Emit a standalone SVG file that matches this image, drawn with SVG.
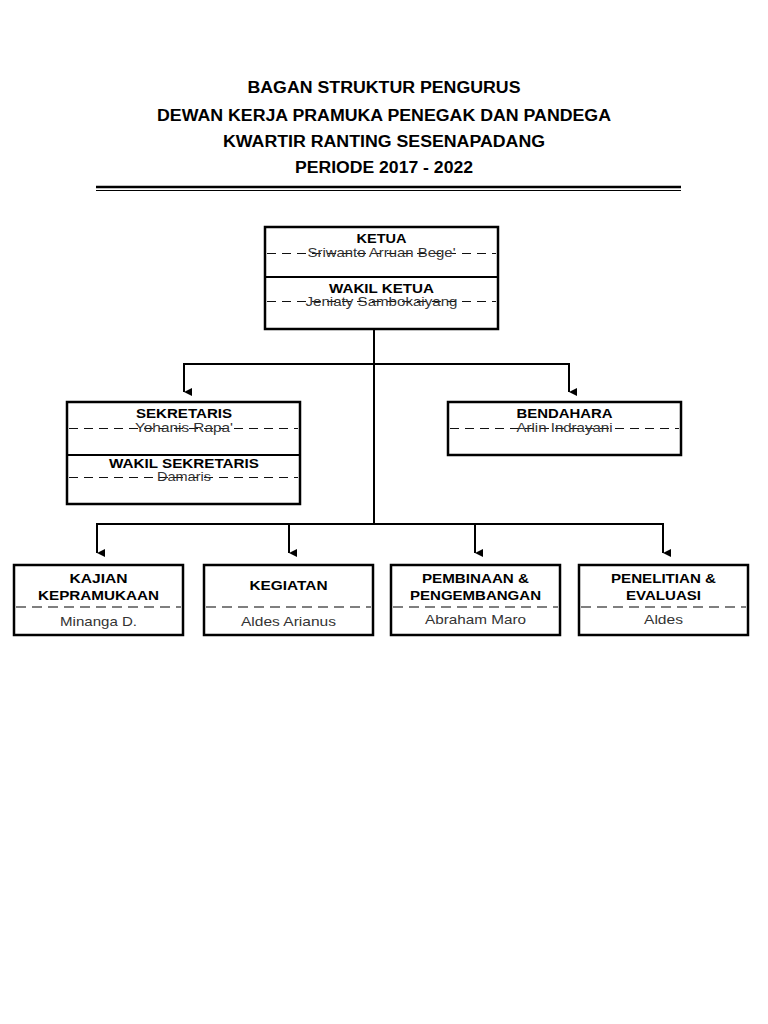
<svg xmlns="http://www.w3.org/2000/svg" width="768" height="1024" viewBox="0 0 768 1024">
<style>
.title{font-family:"Liberation Sans",Arial,sans-serif;font-weight:bold;font-size:16px;fill:#000;text-anchor:middle}
.lbl{font-family:"Liberation Sans",Arial,sans-serif;font-weight:bold;font-size:13.5px;fill:#000;text-anchor:middle}
.nm{font-family:"Liberation Sans",Arial,sans-serif;font-size:13px;fill:#333;text-anchor:middle}
.box{fill:#fff;stroke:#000;stroke-width:2.5}
.dash{stroke:#111;stroke-width:1;stroke-dasharray:9 6;fill:none}
.dash2{stroke:#555;stroke-width:1.4;stroke-dasharray:10 6;fill:none}
.conn{stroke:#000;stroke-width:2;fill:none}
</style>
<defs>
<marker id="arr" markerWidth="8" markerHeight="8" refX="4" refY="8" orient="auto-start-reverse" markerUnits="userSpaceOnUse" viewBox="0 0 8 8">
<path d="M0,0 L8,0 L4,8 Z" fill="#000"/>
</marker>
</defs>
<rect width="768" height="1024" fill="#fff"/>
<g id="title">
<text class="title" x="384" y="93" textLength="273" lengthAdjust="spacingAndGlyphs">BAGAN STRUKTUR PENGURUS</text>
<text class="title" x="384" y="121" textLength="454" lengthAdjust="spacingAndGlyphs">DEWAN KERJA PRAMUKA PENEGAK DAN PANDEGA</text>
<text class="title" x="384" y="147" textLength="322" lengthAdjust="spacingAndGlyphs">KWARTIR RANTING SESENAPADANG</text>
<text class="title" x="384" y="173" textLength="178" lengthAdjust="spacingAndGlyphs">PERIODE 2017 - 2022</text>
<line x1="96" y1="187" x2="681" y2="187" stroke="#000" stroke-width="2.5"/>
<line x1="96" y1="190.5" x2="681" y2="190.5" stroke="#000" stroke-width="1"/>
</g>
<g id="connectors">
<line class="conn" x1="374" y1="329" x2="374" y2="524"/>
<path class="conn" d="M184,392 V364 H569 V392" marker-start="url(#arr)" marker-end="url(#arr)"/>
<line class="conn" x1="97" y1="524" x2="663" y2="524"/>
<line class="conn" x1="97" y1="523" x2="97" y2="553" marker-end="url(#arr)"/>
<line class="conn" x1="289" y1="523" x2="289" y2="553" marker-end="url(#arr)"/>
<line class="conn" x1="475" y1="523" x2="475" y2="553" marker-end="url(#arr)"/>
<line class="conn" x1="663" y1="523" x2="663" y2="553" marker-end="url(#arr)"/>
</g>
<g id="ketua">
<rect class="box" x="265" y="227" width="233" height="102"/>
<line x1="265" y1="277" x2="498" y2="277" stroke="#000" stroke-width="2"/>
<line class="dash" x1="267" y1="253.5" x2="496" y2="253.5"/>
<text class="lbl" x="381.5" y="243" textLength="50" lengthAdjust="spacingAndGlyphs">KETUA</text>
<text class="nm" x="381.5" y="257" textLength="148" lengthAdjust="spacingAndGlyphs">Sriwanto Arruan Bege'</text>
<line class="dash" x1="267" y1="301.5" x2="496" y2="301.5"/>
<text class="lbl" x="381.5" y="293" textLength="105" lengthAdjust="spacingAndGlyphs">WAKIL KETUA</text>
<text class="nm" x="381.5" y="306" textLength="152" lengthAdjust="spacingAndGlyphs">Jeniaty Sambokaiyang</text>
</g>
<g id="sekretaris">
<rect class="box" x="67" y="402" width="233" height="102"/>
<line x1="67" y1="455" x2="300" y2="455" stroke="#000" stroke-width="2"/>
<line class="dash" x1="69" y1="428.5" x2="298" y2="428.5"/>
<text class="lbl" x="184" y="418" textLength="96" lengthAdjust="spacingAndGlyphs">SEKRETARIS</text>
<text class="nm" x="184" y="432" textLength="98" lengthAdjust="spacingAndGlyphs">Yohanis Rapa'</text>
<line class="dash" x1="69" y1="477.5" x2="298" y2="477.5"/>
<text class="lbl" x="184" y="468" textLength="150" lengthAdjust="spacingAndGlyphs">WAKIL SEKRETARIS</text>
<text class="nm" x="184" y="481" textLength="54" lengthAdjust="spacingAndGlyphs">Damaris</text>
</g>
<g id="bendahara">
<rect class="box" x="448" y="402" width="233" height="53"/>
<line class="dash" x1="450" y1="428.5" x2="679" y2="428.5"/>
<text class="lbl" x="564.5" y="418" textLength="96" lengthAdjust="spacingAndGlyphs">BENDAHARA</text>
<text class="nm" x="564.5" y="432" textLength="96" lengthAdjust="spacingAndGlyphs">Arlin Indrayani</text>
</g>
<g id="kajian">
<rect class="box" x="14" y="565" width="169" height="70"/>
<line class="dash2" x1="16" y1="607" x2="181" y2="607"/>
<text class="lbl" x="98.5" y="583" textLength="58" lengthAdjust="spacingAndGlyphs">KAJIAN</text>
<text class="lbl" x="98.5" y="600" textLength="121" lengthAdjust="spacingAndGlyphs">KEPRAMUKAAN</text>
<text class="nm" x="98.5" y="626" fill="#222" textLength="77" lengthAdjust="spacingAndGlyphs">Minanga D.</text>
</g>
<g id="kegiatan">
<rect class="box" x="204" y="565" width="169" height="70"/>
<line class="dash2" x1="206" y1="607" x2="371" y2="607"/>
<text class="lbl" x="288.5" y="590" textLength="78" lengthAdjust="spacingAndGlyphs">KEGIATAN</text>
<text class="nm" x="288.5" y="626" textLength="95" lengthAdjust="spacingAndGlyphs">Aldes Arianus</text>
</g>
<g id="pembinaan">
<rect class="box" x="391" y="565" width="169" height="70"/>
<line class="dash2" x1="393" y1="607" x2="558" y2="607"/>
<text class="lbl" x="475.5" y="583" textLength="107" lengthAdjust="spacingAndGlyphs">PEMBINAAN &amp;</text>
<text class="lbl" x="475.5" y="600" textLength="131" lengthAdjust="spacingAndGlyphs">PENGEMBANGAN</text>
<text class="nm" x="475.5" y="624" textLength="101" lengthAdjust="spacingAndGlyphs">Abraham Maro</text>
</g>
<g id="penelitian">
<rect class="box" x="579" y="565" width="169" height="70"/>
<line class="dash2" x1="581" y1="607" x2="746" y2="607"/>
<text class="lbl" x="663.5" y="583" textLength="105" lengthAdjust="spacingAndGlyphs">PENELITIAN &amp;</text>
<text class="lbl" x="663.5" y="600" textLength="75" lengthAdjust="spacingAndGlyphs">EVALUASI</text>
<text class="nm" x="663.5" y="624" textLength="39" lengthAdjust="spacingAndGlyphs">Aldes</text>
</g>
</svg>
